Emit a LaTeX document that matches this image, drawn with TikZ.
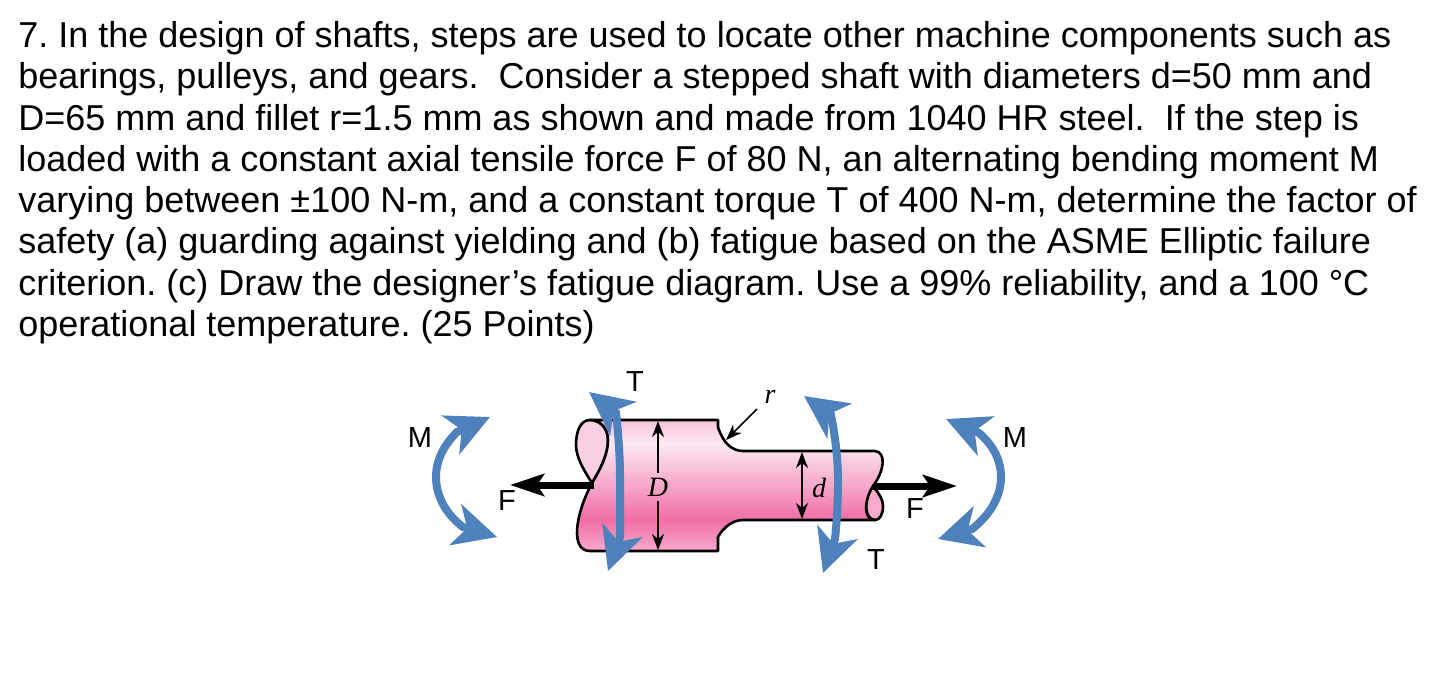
\documentclass[tikz,border=0pt]{standalone}
\usepackage{fontspec}
\setmainfont{Liberation Sans}
\usetikzlibrary{arrows.meta}
\definecolor{niceblue}{RGB}{79, 129, 189}
\definecolor{lpink}{RGB}{249, 208, 226}
\definecolor{rpink}{RGB}{246, 170, 204}
\definecolor{spink}{RGB}{241, 110, 166}
\definecolor{mpink}{RGB}{247, 175, 207}
\definecolor{wpink}{RGB}{253, 234, 243}
\definecolor{tpink}{RGB}{248, 196, 220}
\pgfdeclareverticalshading{shaftpink}{100bp}{color(0bp)=(rpink); color(25bp)=(rpink); color(37bp)=(spink); color(52bp)=(mpink); color(66bp)=(wpink); color(75bp)=(tpink); color(100bp)=(tpink)}
\tikzset{
	shaftline/.style = {line width = 1.3pt, line join = round},
	bluearrow/.style = {draw = niceblue, line width = 4pt, {Stealth[length = 21.5pt, width = 21pt, inset = 6pt]}-{Stealth[length = 21.5pt, width = 21pt, inset = 6pt]}},
	forcearrow/.style = {draw = black, line width = 3.5pt, -{Stealth[length = 17pt, width = 11pt, inset = 3.5pt]}},
	dimarrow/.style = {draw = black, line width = 0.8pt, -{Stealth[length = 8pt, width = 6pt, inset = 2.5pt]}},
	lbl/.style = {inner sep = 0pt, font = \fontsize{14.5}{16}\selectfont},
	mathlbl/.style = {inner sep = 2pt, font = \fontsize{14}{16}\selectfont}
}
\frenchspacing
\begin{document}
\begin{tikzpicture}[x = 0.5pt, y = -0.5pt]
			\useasboundingbox (0,0) rectangle (1444,677);
			\fill[white] (0,0) rectangle (1444,677);
			\node (question) at (18,21) [anchor = north west, inner sep = 0pt, align = left, font = \fontsize{18}{20.65}\selectfont] {7. In the design of shafts, steps are used to locate other machine components such as\\
			bearings, pulleys, and gears.\ \ Consider a stepped shaft with diameters d=50 mm and\\
			D=65 mm and fillet r=1.5 mm as shown and made from 1040 HR steel.\ \ If the step is\\
			loaded with a constant axial tensile force F of 80 N, an alternating bending moment M\\
			varying between ±100 N-m, and a constant torque T of 400 N-m, determine the factor of\\
			safety (a) guarding against yielding and (b) fatigue based on the ASME Elliptic failure\\
			criterion. (c) Draw the designer’s fatigue diagram. Use a 99\% reliability, and a 100 °C\\
			operational temperature. (25 Points)};
			% shaft
			\draw[shaftline, fill = lpink] (590,420) .. controls (580,420) and (576,432) .. (576,445) .. controls (576,458) and (585,472) .. (592,483) .. controls (603,465) and (608,452) .. (608,440) .. controls (608,428) and (600,420) .. (590,420) -- cycle;
			\draw[shaftline, fill = rpink] (873,486) .. controls (880,495) and (883,500) .. (883,506) .. controls (883,514) and (880,520) .. (875,520) .. controls (869,520) and (866,513) .. (866,505) .. controls (866,498) and (869,492) .. (873,486) -- cycle;
			\draw[shaftline, shading = shaftpink] (590,420) -- (718,420) -- (718,427) .. controls (723,443) and (732,451) .. (743,451) -- (875,451) .. controls (886,452) and (885,470) .. (873,486) .. controls (864,500) and (863,520) .. (875,520) -- (743,520) .. controls (732,520) and (723,528) .. (718,537) -- (718,551) -- (590,551) .. controls (570,551) and (575,515) .. (592,483) .. controls (603,465) and (608,452) .. (608,440) .. controls (608,428) and (600,420) .. (590,420) -- cycle;
			% dimensions
			\node (D) at (658,487) [mathlbl] {\fontspec{Liberation Serif}\itshape D};
			\node (d) at (819,488) [mathlbl] {\fontspec{Liberation Serif}\itshape d};
			\node (r) at (770,397) [mathlbl] {\fontspec{Liberation Serif}\itshape r};
			\coordinate (Dtop) at (658,421);
			\coordinate (Dbot) at (658,550);
			\coordinate (dtop) at (802,452);
			\coordinate (dbot) at (802,519);
			\coordinate (rstart) at (757,409);
			\coordinate (rend) at (726,440);
			\draw[dimarrow] (D) -- (Dtop);
			\draw[dimarrow] (D) -- (Dbot);
			\draw[dimarrow, {Stealth[length = 8pt, width = 6pt, inset = 2.5pt]}-{Stealth[length = 8pt, width = 6pt, inset = 2.5pt]}] (dtop) -- (dbot);
			\draw[dimarrow] (rstart) -- (rend);
			% forces
			\coordinate (Flstart) at (594,485);
			\coordinate (Flend) at (510,485);
			\coordinate (Frstart) at (873,486);
			\coordinate (Frend) at (957,486);
			\draw[forcearrow] (Flstart) -- (Flend);
			\draw[forcearrow] (Frstart) -- (Frend);
			% moments and torques
			\coordinate (Mltop) at (490,417);
			\coordinate (Mlmid) at (436,477);
			\coordinate (Mlbot) at (497,537);
			\coordinate (Mrtop) at (946,419);
			\coordinate (Mrmid) at (1001,477);
			\coordinate (Mrbot) at (938,539);
			\coordinate (Tltop) at (589,392);
			\coordinate (Tlmid) at (620,477);
			\coordinate (Tlbot) at (608,571);
			\coordinate (Trtop) at (804,396);
			\coordinate (Trmid) at (838,480);
			\coordinate (Trbot) at (823,573);
			\draw[bluearrow] (Mltop) -- (457,432) .. controls (444,445) and (436,460) .. (Mlmid) .. controls (436,497) and (447,515) .. (463,527) -- (Mlbot);
			\draw[bluearrow] (Mrtop) -- (979,433) .. controls (993,445) and (1001,460) .. (Mrmid) .. controls (1001,497) and (989,516) .. (972,529) -- (Mrbot);
			\draw[bluearrow] (Tltop) -- (616,413) .. controls (618,430) and (620,455) .. (Tlmid) .. controls (620,500) and (620,520) .. (620,537) -- (Tlbot);
			\draw[bluearrow] (Trtop) -- (831,415) .. controls (834,430) and (838,455) .. (Trmid) .. controls (838,500) and (837,520) .. (835,539) -- (Trbot);
			% labels
			\node (Ml) at (420,438) [lbl] {M};
			\node (Mr) at (1015,438) [lbl] {M};
			\node (Tt) at (635,382) [lbl] {T};
			\node (Tb) at (876,560) [lbl] {T};
			\node (Fl) at (507,501) [lbl] {F};
			\node (Fr) at (915,509) [lbl] {F};
			\end{tikzpicture}
\end{document}
